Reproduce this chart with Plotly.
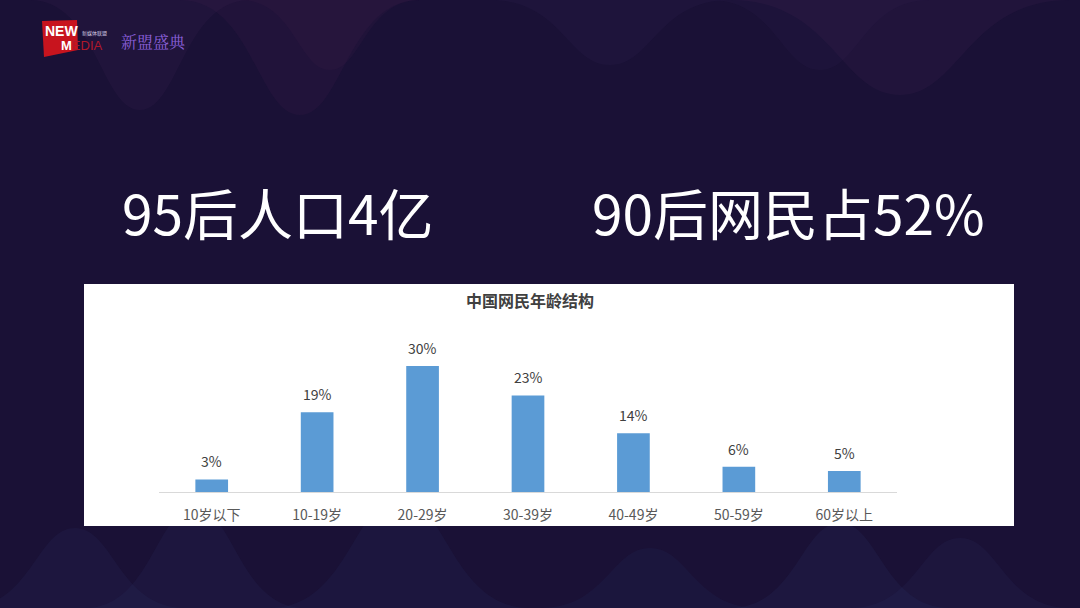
import plotly.graph_objects as go

W, H = 1080, 608
categories = ["10岁以下", "10-19岁", "20-29岁", "30-39岁", "40-49岁", "50-59岁", "60岁以上"]
shares = [3, 19, 30, 23, 14, 6, 5]
labels = ["3%", "19%", "30%", "23%", "14%", "6%", "5%"]
chart_title = "中国网民年龄结构"
headline_left = "95后人口4亿"
headline_right = "90后网民占52%"

def px(x):
    return x / W

def py(y):
    return (H - y) / H

CJK = "Noto Sans CJK SC"
BG = "#1a1136"

fig = go.Figure()
fig.add_trace(go.Bar(
    x=categories, y=shares, width=0.31,
    marker=dict(color="#5b9bd5", line=dict(width=0)),
    hoverinfo="skip",
))

shapes = []
def dome_down(xc, half, depth, ytop, color):
    path = (f"M {px(xc-half)} {py(ytop)} "
            f"C {px(xc-half*0.4)} {py(ytop)}, {px(xc-half*0.35)} {py(ytop+depth)}, {px(xc)} {py(ytop+depth)} "
            f"C {px(xc+half*0.35)} {py(ytop+depth)}, {px(xc+half*0.4)} {py(ytop)}, {px(xc+half)} {py(ytop)} Z")
    return dict(type="path", xref="paper", yref="paper", path=path,
                fillcolor=color, line=dict(width=0), layer="below")

def peak_up(xc, half, height, ybot, color):
    path = (f"M {px(xc-half)} {py(ybot)} "
            f"C {px(xc-half*0.4)} {py(ybot)}, {px(xc-half*0.35)} {py(ybot-height)}, {px(xc)} {py(ybot-height)} "
            f"C {px(xc+half*0.35)} {py(ybot-height)}, {px(xc+half*0.4)} {py(ybot)}, {px(xc+half)} {py(ybot)} Z")
    return dict(type="path", xref="paper", yref="paper", path=path,
                fillcolor=color, line=dict(width=0), layer="below")

shapes += [
    dome_down(140, 110, 110, 0, "rgba(70,40,90,0.16)"),
    dome_down(300, 120, 115, 0, "rgba(80,35,85,0.14)"),
    dome_down(330, 90, 70, 0, "rgba(70,35,80,0.14)"),
    dome_down(610, 120, 65, 0, "rgba(60,45,95,0.14)"),
    dome_down(900, 170, 95, 0, "rgba(75,40,90,0.14)"),
    dome_down(820, 110, 70, 0, "rgba(60,40,90,0.12)"),
    peak_up(75, 110, 80, 608, "rgba(45,50,100,0.18)"),
    peak_up(195, 110, 100, 608, "rgba(45,50,100,0.18)"),
    peak_up(400, 130, 110, 608, "rgba(40,50,100,0.18)"),
    peak_up(650, 110, 60, 608, "rgba(40,50,100,0.16)"),
    peak_up(840, 110, 85, 608, "rgba(45,55,105,0.18)"),
    peak_up(960, 110, 70, 608, "rgba(45,55,105,0.15)"),
]
shapes.append(dict(type="rect", xref="paper", yref="paper",
                   x0=px(84), x1=px(1014), y0=py(526), y1=py(284),
                   fillcolor="#ffffff", line=dict(width=0), layer="below"))
shapes.append(dict(type="path", xref="paper", yref="paper",
                   path=f"M {px(42)} {py(21)} L {px(77)} {py(20)} L {px(78)} {py(50)} L {px(44)} {py(57)} Z",
                   fillcolor="#c8141e", line=dict(width=0), layer="above"))

annotations = [
    dict(text=headline_left, x=px(278), y=py(211), xref="paper", yref="paper",
         showarrow=False, xanchor="center", yanchor="middle",
         font=dict(family=CJK, size=55, color="#ffffff")),
    dict(text=headline_right, x=px(788), y=py(211), xref="paper", yref="paper",
         showarrow=False, xanchor="center", yanchor="middle",
         font=dict(family=CJK, size=55, color="#ffffff")),
    dict(text="<b>" + chart_title + "</b>", x=px(530), y=py(300), xref="paper", yref="paper",
         showarrow=False, xanchor="center", yanchor="middle",
         font=dict(family=CJK, size=16, color="#404040")),
    dict(text="<b>NEW</b>", x=px(43), y=py(31), xref="paper", yref="paper",
         showarrow=False, xanchor="left", yanchor="middle",
         font=dict(family="Liberation Sans", size=14, color="#ffffff")),
    dict(text="<b>M</b><span style='color:#b0182a'>EDIA</span>", x=px(59), y=py(45), xref="paper", yref="paper",
         showarrow=False, xanchor="left", yanchor="middle",
         font=dict(family="Liberation Sans", size=13, color="#ffffff")),
    dict(text="新媒体联盟", x=px(80), y=py(33), xref="paper", yref="paper",
         showarrow=False, xanchor="left", yanchor="middle",
         font=dict(family=CJK, size=5, color="#d0c8e0")),
    dict(text="新盟盛典", x=px(119), y=py(42), xref="paper", yref="paper",
         showarrow=False, xanchor="left", yanchor="middle",
         font=dict(family="Noto Serif CJK SC, " + CJK, size=16, color="#8a5fd8")),
]
for c, v, t in zip(categories, shares, labels):
    annotations.append(dict(text=t, x=c, y=v, xref="x", yref="y",
                            showarrow=False, xanchor="center", yanchor="bottom",
                            yshift=6,
                            font=dict(family=CJK, size=14, color="#404040")))

fig.update_layout(
    width=W, height=H, autosize=False,
    margin=dict(l=0, r=0, t=0, b=0),
    paper_bgcolor=BG, plot_bgcolor="rgba(0,0,0,0)",
    showlegend=False,
    shapes=shapes, annotations=annotations,
    xaxis=dict(domain=[px(159), px(897)], showgrid=False, zeroline=False,
               showline=True, linecolor="#d9d9d9", linewidth=1,
               ticks="outside", ticklen=10, tickcolor="rgba(0,0,0,0)",
               tickfont=dict(family=CJK, size=14, color="#595959"),
               fixedrange=True),
    yaxis=dict(domain=[py(492), py(324)], range=[0, 40], showgrid=False,
               zeroline=False, showline=False, showticklabels=False,
               fixedrange=True),
)

fig.write_html("out.html")
